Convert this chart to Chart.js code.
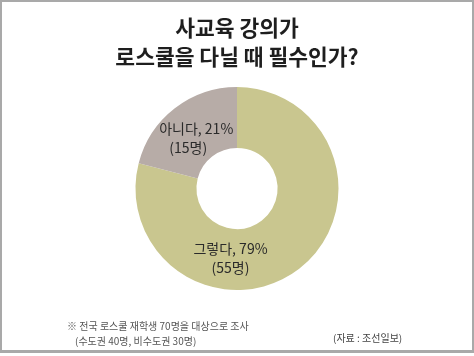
<!DOCTYPE html>
<html>
<head>
<meta charset="utf-8">
<script src="https://cdn.jsdelivr.net/npm/chart.js@4"></script>
<style>
  html,body{margin:0;padding:0;background:#fff;}
  #frame{position:absolute;left:0;top:0;width:474px;height:353px;box-sizing:border-box;border:2px solid #a9a9a9;border-bottom-width:3px;}
  #wrap{position:absolute;left:0;top:0;width:474px;height:356px;}
  .t{position:absolute;font-family:"Noto Sans CJK KR","Noto Sans",sans-serif;white-space:nowrap;}
  #title{left:0;width:474px;top:12px;text-align:center;font-size:21.5px;font-weight:bold;color:#1e1e1e;line-height:29px;}
  #note{left:67px;top:318px;font-size:10px;color:#555;line-height:15px;}
  #note2{left:75px;}
  #src{left:333px;top:331px;font-size:10px;color:#444;line-height:14px;}
</style>
</head>
<body>
<div id="frame"></div>
<div id="wrap"><canvas id="c" width="474" height="356"></canvas></div>
<div class="t" id="title">사교육 강의가<br>로스쿨을 다닐 때 필수인가?</div>
<div class="t" id="note">※ 전국 로스쿨 재학생 70명을 대상으로 조사</div>
<div class="t" id="note" style="top:333px;left:75px;">(수도권 40명, 비수도권 30명)</div>
<div class="t" id="src">(자료 : 조선일보)</div>
<script>
const categories = ["그렇다", "아니다"];
const percents = [79, 21];
const counts = [55, 15];
const colors = ["#c9c68f", "#b7aca7"];

// label placement: angle (radians, canvas convention); null -> slice midpoint
const labelAngles = [Math.PI * 0.53, null];

const labelPlugin = {
  id: "ringLabels",
  afterDatasetsDraw(chart) {
    const ctx = chart.ctx;
    const meta = chart.getDatasetMeta(0);
    ctx.save();
    ctx.font = '14px "Noto Sans CJK KR", "Noto Sans", sans-serif';
    ctx.fillStyle = "#2a2a2a";
    ctx.textAlign = "center";
    ctx.textBaseline = "middle";
    meta.data.forEach((arc, i) => {
      const p = arc.getProps(["x","y","startAngle","endAngle","innerRadius","outerRadius"], true);
      const a = labelAngles[i] !== null ? labelAngles[i] : (p.startAngle + p.endAngle) / 2;
      const r = (p.innerRadius + p.outerRadius) / 2 + (i === 1 ? 2 : -2);
      const cx = p.x + Math.cos(a) * r;
      const cy = p.y + Math.sin(a) * r + (i === 1 ? 7 : 0);
      ctx.fillText(categories[i] + ", " + percents[i] + "%", cx + (i===1?4:0), cy - 9);
      ctx.fillText("(" + counts[i] + "명)", cx + (i===1?-4:0), cy + 10);
    });
    ctx.restore();
  }
};

new Chart(document.getElementById("c"), {
  type: "doughnut",
  data: {
    labels: categories,
    datasets: [{
      data: percents,
      backgroundColor: colors,
      borderWidth: 0
    }]
  },
  options: {
    responsive: false,
    animation: false,
    cutout: "40%",
    layout: { padding: { top: 87, bottom: 66, left: 0, right: 0 } },
    plugins: { legend: { display: false }, tooltip: { enabled: false }, title: { display: false } }
  },
  plugins: [labelPlugin]
});
</script>
</body>
</html>
